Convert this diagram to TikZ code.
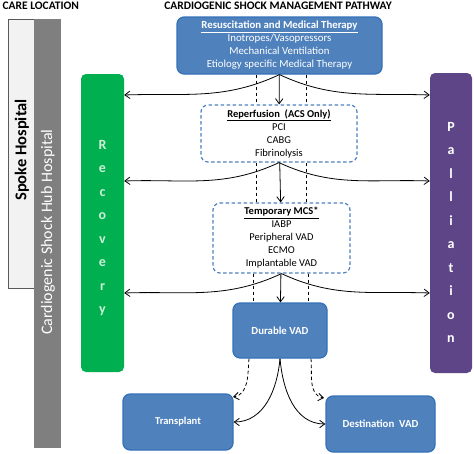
\documentclass[tikz,border=0pt]{standalone}
\usepackage{fontspec}
\setmainfont{Carlito}
\usetikzlibrary{arrows.meta, positioning}
\definecolor{cardBlue}{HTML}{4F81BD}
\definecolor{cardEdge}{HTML}{3471B8}
\definecolor{recGreen}{HTML}{00B050}
\definecolor{recText}{HTML}{CDEFD6}
\definecolor{palPurple}{HTML}{5E4587}
\definecolor{spokeGrey}{HTML}{F2F2F2}
\definecolor{hubGrey}{HTML}{7F7F7F}

\begin{document}
\begin{tikzpicture}[x=1pt, y=-1pt,
  blueBox/.style={rectangle, rounded corners=7pt, draw=cardEdge, line width=1.2pt,
                  fill=cardBlue, text=white, align=center, inner sep=0pt,
                  font=\fontsize{10.8}{13}\selectfont},
  dashBox/.style={rectangle, rounded corners=7pt, draw=cardBlue, line width=1.2pt,
                  dash pattern=on 3.5pt off 2.5pt, fill=white, align=center, inner sep=0pt,
                  font=\fontsize{10.5}{13}\selectfont},
  barBox/.style={rectangle, rounded corners=5pt, inner sep=0pt},
  barText/.style={align=center, font=\bfseries\fontsize{14}{23.5}\selectfont},
  title/.style={font=\bfseries\fontsize{11.5}{12}\selectfont},
  arr/.style={-{Straight Barb[length=1.8mm, width=2.6mm]}, line width=0.8pt},
  dsh/.style={dash pattern=on 3.5pt off 2.5pt, line width=0.8pt},
  dshArr/.style={dsh, -{Straight Barb[length=1.8mm, width=2.6mm]}}
]
\useasboundingbox (0,0) rectangle (474,453);

% titles
\node[title, anchor=west] (careTitle) at (-1,6) {CARE LOCATION};
\node[title] (pathTitle) at (278,6) {CARDIOGENIC SHOCK MANAGEMENT PATHWAY};

% care location bars
\node[rectangle, draw=black!65, line width=0.8pt, fill=spokeGrey, minimum width=26pt,
      minimum height=269pt, inner sep=0pt] (spoke) at (21,153.5) {};
\node[rectangle, fill=hubGrey, minimum width=27pt, minimum height=429pt, inner sep=0pt]
      (hub) at (47.5,233.5) {};
\node[rotate=90, font=\bfseries\fontsize{16.5}{17}\selectfont] (spokeLbl) at (22,150) {Spoke Hospital};
\node[rotate=90, text=white, font=\fontsize{16}{17}\selectfont] (hubLbl) at (48,232)
      {Cardiogenic Shock Hub Hospital};

% outcome bars
\node[barBox, fill=recGreen, minimum width=43pt, minimum height=298pt] (recovery) at (102.5,223) {};
\node[barText, text=recText] (recLbl) at (102.5,228) {R\\e\\c\\o\\v\\e\\r\\y};
\node[barBox, fill=palPurple, minimum width=42pt, minimum height=300pt] (palliation) at (451,223) {};
\node[barText, text=white] (palLbl) at (451,232.5) {P\\a\\l\\l\\i\\a\\t\\i\\o\\n};

% pathway steps
\node[blueBox, minimum width=205pt, minimum height=57pt] (resus) at (279.5,45.5)
  {\textbf{\underline{Resuscitation and Medical Therapy}}\\Inotropes/Vasopressors\\
   Mechanical Ventilation\\Etiology specific Medical Therapy};
\node[dashBox, minimum width=156pt, minimum height=57pt] (reperf) at (279,133.5)
  {\textbf{\underline{Reperfusion\ \ (ACS Only)}}\\PCI\\CABG\\Fibrinolysis};
\node[dashBox, minimum width=137pt, minimum height=70pt] (mcs) at (281.5,238)
  {\textbf{\underline{Temporary MCS*}}\\IABP\\Peripheral VAD\\ECMO\\Implantable VAD};
\node[blueBox, minimum width=94pt, minimum height=55pt, font=\bfseries\fontsize{10.8}{12}\selectfont]
  (durable) at (280,330.5) {Durable VAD};
\node[blueBox, minimum width=110pt, minimum height=56pt, font=\bfseries\fontsize{10.5}{12}\selectfont]
  (transplant) at (178,422) {Transplant};
\node[blueBox, minimum width=109pt, minimum height=56pt, font=\bfseries\fontsize{10.8}{12}\selectfont]
  (destination) at (380.5,424) {Destination\ \ VAD};

% helper coordinates
\coordinate (lvlA) at (0,95);
\coordinate (lvlB) at (0,181);
\coordinate (lvlC) at (0,293);
\coordinate (dL) at (256,0);
\coordinate (dR) at (306,0);
\coordinate (dLL) at (253,0);
\coordinate (dRR) at (308,0);
\coordinate (tpTip) at (233,397);
\coordinate (dvTip) at (324,398);

% branches to recovery and palliation
\foreach \from/\lvl in {resus/lvlA, reperf/lvlB, mcs/lvlC} {
  \draw[arr] (\from.south) to[out=205, in=2] (recovery.east |- \lvl);
  \draw[arr] (\from.south) to[out=-25, in=178] (palliation.west |- \lvl);
}
\draw[arr] (resus) -- (reperf);
\draw[arr] (reperf) -- (mcs);
\draw[arr] (mcs) -- (durable);

% bypass lines
\foreach \a/\b in {resus/reperf, reperf/mcs} {
  \draw[dsh] (\a.south -| dL) -- (\b.north -| dL);
  \draw[dsh] (\a.south -| dR) -- (\b.north -| dR);
}
\draw[dsh] (mcs.south -| dLL) -- (durable.north -| dLL);
\draw[dsh] (mcs.south -| dRR) -- (durable.north -| dRR);

% final outcomes
\draw[arr] (durable.south) to[out=-95, in=0] (transplant.east);
\draw[arr] (durable.south) to[out=-85, in=180] (destination.west);
\draw[dshArr] (durable.south -| 249,0) to[out=-95, in=10] (tpTip);
\draw[dshArr] (durable.south -| 311,0) to[out=-85, in=170] (dvTip);
\end{tikzpicture}
\end{document}
